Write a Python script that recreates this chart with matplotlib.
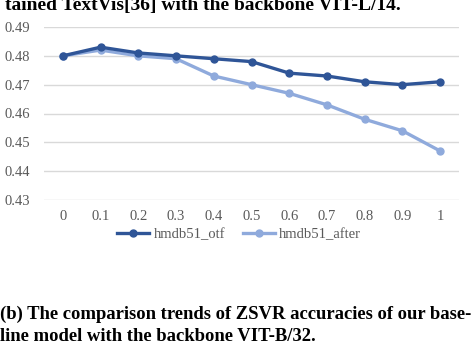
import matplotlib.pyplot as plt

# data
x_labels = ['0', '0.1', '0.2', '0.3', '0.4', '0.5', '0.6', '0.7', '0.8', '0.9', '1']
hmdb51_otf = [0.480, 0.483, 0.481, 0.480, 0.479, 0.478, 0.474, 0.473, 0.471, 0.470, 0.471]
hmdb51_after = [0.480, 0.482, 0.480, 0.479, 0.473, 0.470, 0.467, 0.463, 0.458, 0.454, 0.447]
y_ticks = [0.43, 0.44, 0.45, 0.46, 0.47, 0.48, 0.49]

plt.rcParams['font.family'] = ['Liberation Serif', 'DejaVu Serif']

fig = plt.figure(figsize=(4.74, 3.45), dpi=100)
ax = fig.add_axes([44 / 474, 145 / 345, 415 / 474, 173 / 345])

xs = range(len(x_labels))
ax.plot(xs, hmdb51_otf, color='#2F5597', lw=2.4, marker='o', ms=5, label='hmdb51_otf', zorder=3)
ax.plot(xs, hmdb51_after, color='#8FAADC', lw=2.4, marker='o', ms=5, label='hmdb51_after', zorder=2)

ax.set_xlim(-0.5, 10.5)
ax.set_ylim(0.43, 0.49)
ax.set_yticks(y_ticks)
ax.set_yticklabels([f'{v:.2f}' for v in y_ticks])
ax.set_xticks(list(xs))
ax.set_xticklabels(x_labels)
ax.tick_params(length=0, labelsize=10.5, labelcolor='#595959')
ax.tick_params(axis='y', pad=10)
ax.tick_params(axis='x', pad=7)
ax.grid(axis='y', color='#D9D9D9', lw=1)
ax.set_axisbelow(True)
for s in ax.spines.values():
    s.set_visible(False)

ax.legend(loc='upper center', bbox_to_anchor=(0.47, -0.085), ncol=2, frameon=False,
          fontsize=10.5, labelcolor='#595959', handlelength=2.2, handletextpad=0.3,
          columnspacing=1.2)

# captions around the chart
fig.text(0.01, 1 - 10 / 345, 'tained TextVis[36] with the backbone VIT-L/14.',
         fontsize=14, fontweight='bold', ha='left', va='baseline')
fig.text(0.0, 1 - 319 / 345, '(b) The comparison trends of ZSVR accuracies of our base-',
         fontsize=13.4, fontweight='bold', ha='left', va='baseline')
fig.text(0.0, 1 - 341 / 345, 'line model with the backbone VIT-B/32.',
         fontsize=13.4, fontweight='bold', ha='left', va='baseline')

fig.savefig('out.png', dpi=100)
